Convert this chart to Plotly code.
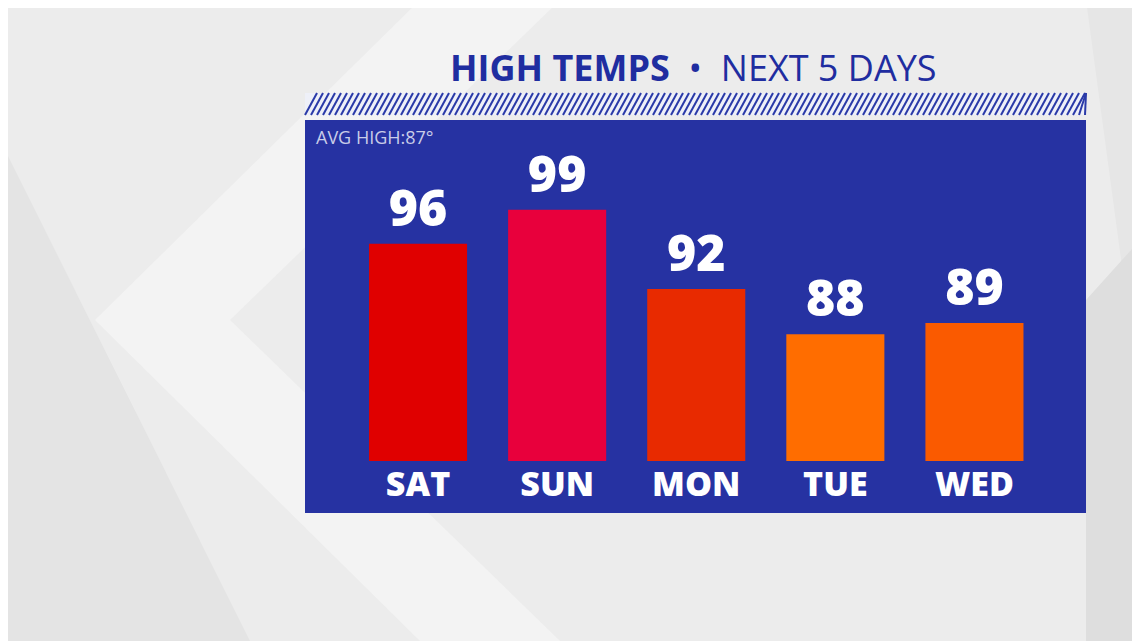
import plotly.graph_objects as go

days = ['SAT', 'SUN', 'MON', 'TUE', 'WED']
highs = [96, 99, 92, 88, 89]
bar_colors = ['#e00000', '#e8003c', '#e82a00', '#ff6d00', '#fa5a00']
avg_high = 87

# page has an 8px body margin, so the figure is shrunk and offset to fill the window
OFF = 8
W, H = 1140 - OFF, 641 - OFF
def px(x): return (x - OFF) / W
def py(y): return 1 - (y - OFF) / H

fig = go.Figure(go.Bar(
    x=days, y=highs, marker_color=bar_colors, marker_line_width=0,
    text=[str(v) for v in highs], textposition='outside', cliponaxis=False,
    textfont=dict(family='Open Sans', size=50, color='white', weight=800),
))

shapes = []
# background diagonals
for pts, col in [
    ([(0, 140), (250, 641), (0, 641)], '#e4e4e4'),
    ([(95, 320), (420, 0), (560, 0), (230, 320), (560, 641), (420, 641)], '#f3f3f3'),
    ([(1086, 0), (1140, 0), (1140, 400)], '#e6e6e6'),
    ([(1086, 300), (1140, 240), (1140, 641), (1086, 641)], '#dedede'),
]:
    path = 'M ' + ' L '.join(f'{px(a)},{py(b)}' for a, b in pts) + ' Z'
    shapes.append(dict(type='path', xref='paper', yref='paper', path=path,
                       fillcolor=col, line_width=0, layer='below'))
# blue panel
shapes.append(dict(type='rect', xref='paper', yref='paper', x0=px(305), x1=px(1086),
                   y0=py(513), y1=py(120), fillcolor='#2632a2', line_width=0, layer='below'))
# hatch band
shapes.append(dict(type='rect', xref='paper', yref='paper', x0=px(305), x1=px(1086),
                   y0=py(115), y1=py(93), fillcolor='#eef0f8', line_width=0, layer='below'))
x = 305
while x < 1086:
    shapes.append(dict(type='line', xref='paper', yref='paper', x0=px(x), x1=px(min(x + 12, 1086)),
                       y0=py(115), y1=py(93), line=dict(color='#2a3aa8', width=2), layer='below'))
    x += 6

fig.update_layout(
    width=W, height=H, margin=dict(l=0, r=0, t=0, b=0),
    paper_bgcolor='#ececec', plot_bgcolor='rgba(0,0,0,0)',
    shapes=shapes, showlegend=False, bargap=0.295,
    xaxis=dict(domain=[px(348.5), px(1044)], range=[-0.5, 4.5], showgrid=False,
               tickfont=dict(family='Open Sans', size=34, color='white', weight=800),
               ticks='', ticklen=0),
    yaxis=dict(domain=[py(461), py(144)], range=[76.8, 104.8], visible=False),
    annotations=[
        dict(xref='paper', yref='paper', x=px(693), y=py(67), yanchor='middle', showarrow=False,
             text="<b>HIGH TEMPS</b>  •  NEXT 5 DAYS",
             font=dict(family='Open Sans', size=36, color='#1f2da0')),
        dict(xref='paper', yref='paper', x=px(314), y=py(137), xanchor='left', yanchor='middle',
             showarrow=False, text=f"AVG HIGH:{avg_high}°",
             font=dict(family='Open Sans', size=18, color='#c8cce8')),
    ],
)
fig.write_html("out.html")
